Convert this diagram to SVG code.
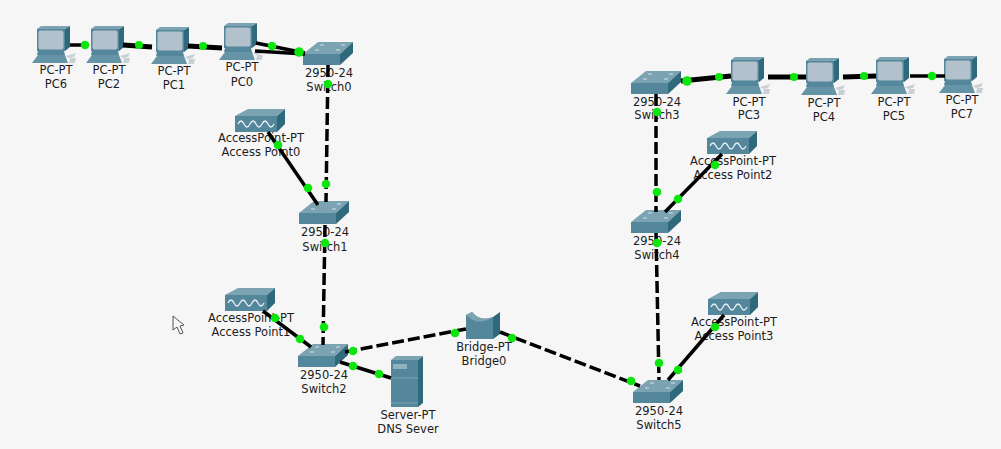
<svg xmlns="http://www.w3.org/2000/svg" width="1001" height="449" viewBox="0 0 1001 449">
<style>
text{font-family:"DejaVu Sans","Liberation Sans",sans-serif;font-size:11.5px;fill:#1c1c1c;text-anchor:middle}
.s{fill:none;stroke:#000;stroke-width:3.500}
.t{fill:none;stroke:#000;stroke-width:5}
.d{fill:none;stroke:#000;stroke-width:3.500;stroke-dasharray:12 4}
.g{fill:#0de60d}
.f{fill:#54879b}.k{fill:#2f6a7c}.u{fill:#7ba3b2}
</style>
<defs>
<g id="pc">
<path class="k" d="M33 3 L38 0 V21 L33 25Z"/>
<path class="u" d="M5 3 L9 0 H38 L33 3Z"/>
<rect class="f" x="5" y="3" width="28" height="22"/>
<rect x="6.500" y="4.500" width="25" height="19" rx="2" fill="#b2c1cb"/>
<path class="f" d="M6 25 H32 L33 29 H5Z"/>
<path d="M6 29 H33 L36 37 H0Z" fill="#6594a6"/>
<path d="M34 30 L44 27 L42 31 L37 32Z M38 32 H44 L43 37 H37Z" fill="#c7d0d5"/>
</g>
<g id="sw">
<path fill="#7ba3b2" d="M15 0 H50 L37 12 H0Z"/>
<path class="f" d="M0 12 H37 V23 H0Z"/>
<path class="k" d="M37 12 L50 0 V11 L37 23Z"/>
<path d="M17 3 H21 M38 3 H42 M12 8 H16 M33 8 H37" stroke="#d5e2e6" stroke-width="1.200" fill="none"/>
</g>
<g id="ap">
<path class="u" d="M13 0 H50 L42 7 H0Z"/>
<path class="f" d="M0 7 H42 V23 H0Z"/>
<path class="k" d="M42 7 L50 0 V15 L42 23Z"/>
<path d="M3 15 q3 -6 6 0 t6 0 t6 0 t6 0 t6 0 t6 0 q-3 6 -6 0 t-6 0 t-6 0 t-6 0 t-6 0 t-6 0Z" fill="none" stroke="#e8eff2" stroke-width="1.300"/>
</g>
</defs>
<rect width="1001" height="449" fill="#f7f6f6"/>
<g id="PC6"><use href="#pc" x="32" y="26"/><text x="56" y="74">PC-PT</text><text x="56" y="88">PC6</text></g>
<g id="PC2"><use href="#pc" x="86" y="26"/><text x="109" y="74">PC-PT</text><text x="109" y="88">PC2</text></g>
<g id="PC1"><use href="#pc" x="151" y="27"/><text x="174" y="75">PC-PT</text><text x="174" y="89">PC1</text></g>
<g id="PC0"><use href="#pc" x="219" y="23"/><text x="242" y="71">PC-PT</text><text x="242" y="86">PC0</text></g>
<g id="PC3"><use href="#pc" x="726" y="57"/><text x="749" y="106">PC-PT</text><text x="749" y="119">PC3</text></g>
<g id="PC4"><use href="#pc" x="801" y="58"/><text x="824" y="107">PC-PT</text><text x="824" y="121">PC4</text></g>
<g id="PC5"><use href="#pc" x="871" y="57"/><text x="894" y="106">PC-PT</text><text x="894" y="120">PC5</text></g>
<g id="PC7"><use href="#pc" x="939" y="56"/><text x="962" y="104">PC-PT</text><text x="962" y="118">PC7</text></g>
<g id="Switch0"><use href="#sw" x="303" y="42"/><text x="329" y="77">2950-24</text><text x="329" y="91">Switch0</text></g>
<g id="Switch1"><use href="#sw" x="299" y="201"/><text x="325" y="236">2950-24</text><text x="325" y="251">Switch1</text></g>
<g id="Switch2"><use href="#sw" x="298" y="344"/><text x="324" y="379">2950-24</text><text x="324" y="393">Switch2</text></g>
<g id="Switch3"><use href="#sw" x="631" y="71"/><text x="657" y="106">2950-24</text><text x="657" y="119">Switch3</text></g>
<g id="Switch4"><use href="#sw" x="631" y="210"/><text x="657" y="245">2950-24</text><text x="657" y="259">Switch4</text></g>
<g id="Switch5"><use href="#sw" x="633" y="380"/><text x="659" y="415">2950-24</text><text x="659" y="429">Switch5</text></g>
<g id="AccessPoint0"><use href="#ap" x="235" y="109"/><text x="261" y="142">AccessPoint-PT</text><text x="261" y="156">Access Point0</text></g>
<g id="AccessPoint1"><use href="#ap" x="225" y="288"/><text x="251" y="322">AccessPoint-PT</text><text x="251" y="336">Access Point1</text></g>
<g id="AccessPoint2"><use href="#ap" x="707" y="131"/><text x="733" y="165">AccessPoint-PT</text><text x="733" y="179">Access Point2</text></g>
<g id="AccessPoint3"><use href="#ap" x="708" y="292"/><text x="734" y="326">AccessPoint-PT</text><text x="734" y="340">Access Point3</text></g>
<g id="Bridge0">
<path class="k" d="M493 317 L500 312 V334 L493 339Z"/>
<path class="f" d="M466 339 V315 L472 312 Q480 322 493 317 V339Z"/>
<path class="u" d="M466 315 L472 312 Q480 322 493 317 Q478 327 466 315Z"/>
<text x="484" y="351">Bridge-PT</text><text x="484" y="365">Bridge0</text>
</g>
<g id="DNSSever">
<path class="k" d="M418 360 L423 356 V403 L418 407Z"/>
<path class="u" d="M391 360 L396 356 H423 L418 360Z"/>
<rect class="f" x="391" y="360" width="27" height="47"/>
<rect x="393" y="364" width="14" height="5" fill="#8fb0bd"/>
<path d="M391 378 H418 M391 403 H418" stroke="#7ba3b2" fill="none"/>
<text x="408" y="419">Server-PT</text><text x="408" y="433">DNS Sever</text>
</g>
<g id="cursor"><path d="M173 316 L173 330 L177 327 L180 334 L183 333 L180 326 L184 325Z" fill="#f7f6f6" stroke="#555"/></g>
<g id="connectors">
<path class="s" d="M70 45 H86"/>
<path class="t" d="M123 45 L152 47"/>
<path class="t" d="M188 46 L222 48"/>
<path class="s" d="M256 43 L305 53"/>
<path class="s" d="M255 51 L305 54"/>
<path class="d" d="M328 65 L326 202"/>
<path class="s" d="M268 132 L318 205"/>
<path class="d" d="M325 225 L323 345"/>
<path class="s" d="M263 311 L311 347"/>
<path class="d" d="M345 352 L466 329"/>
<path class="s" d="M340 362 L391 378"/>
<path class="d" d="M500 332 L640 386"/>
<path class="t" d="M681 81 L731 76"/>
<path class="t" d="M768 77 L806 77"/>
<path class="t" d="M843 77 L876 76"/>
<path class="s" d="M910 76 H945"/>
<path class="d" d="M656 94 V212"/>
<path class="s" d="M722 154 L665 212"/>
<path class="d" d="M656 233 L659 380"/>
<path class="s" d="M724 315 L668 380"/>
<g class="g">
<circle cx="85" cy="45" r="4.300"/><circle cx="139" cy="45" r="4"/><circle cx="203" cy="46" r="4"/><circle cx="272" cy="46" r="4.300"/><circle cx="299" cy="52" r="4.800"/>
<circle cx="328" cy="84" r="4.300"/><circle cx="326" cy="184" r="4.300"/><circle cx="278" cy="145" r="4.300"/><circle cx="308" cy="188" r="4.300"/>
<circle cx="325" cy="243" r="4.300"/><circle cx="324" cy="327" r="4.300"/><circle cx="275" cy="318" r="4.300"/><circle cx="300" cy="339" r="4.300"/>
<circle cx="353" cy="351" r="4.300"/><circle cx="455" cy="333" r="4.300"/><circle cx="353" cy="366" r="4.300"/><circle cx="379" cy="374" r="4.300"/>
<circle cx="512" cy="338" r="4.300"/><circle cx="631" cy="381" r="4.300"/>
<circle cx="687" cy="81" r="4.800"/><circle cx="719" cy="77" r="4"/><circle cx="794" cy="77" r="4"/><circle cx="864" cy="76" r="4"/><circle cx="932" cy="76" r="4.300"/>
<circle cx="657" cy="112" r="4.300"/><circle cx="657" cy="192" r="4.300"/><circle cx="715" cy="165" r="4.300"/><circle cx="678" cy="199" r="4.300"/>
<circle cx="657" cy="243" r="4.300"/><circle cx="659" cy="363" r="4.300"/><circle cx="715" cy="327" r="4.300"/><circle cx="678" cy="370" r="4.300"/>
</g>
</g>
</svg>
